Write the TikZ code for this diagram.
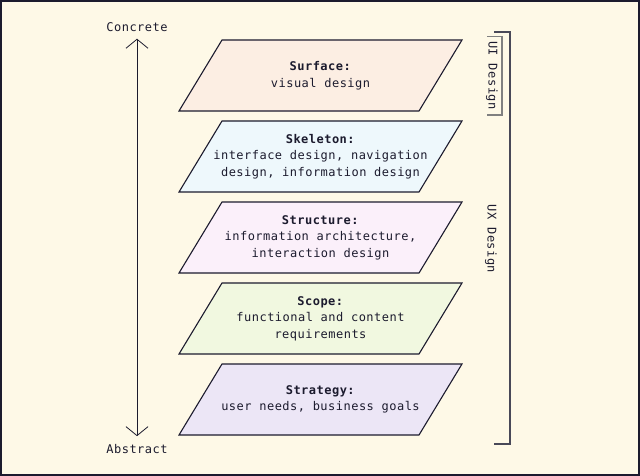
\documentclass[tikz,border=0pt]{standalone}
\usepackage{fontspec}
\setmonofont[LetterSpace=4]{DejaVu Sans Mono}
\usetikzlibrary{arrows.meta}

\definecolor{paper}{HTML}{FEF9E7}
\definecolor{ink}{HTML}{1C1B2E}
\definecolor{surfacefill}{HTML}{FCEEE3}
\definecolor{skeletonfill}{HTML}{EEF8FC}
\definecolor{structurefill}{HTML}{FBF0FA}
\definecolor{scopefill}{HTML}{F1F8E0}
\definecolor{strategyfill}{HTML}{ECE6F6}

\tikzset{
  plane/.style={draw=ink,line width=1.1pt},
  planetext/.style={align=center,text=ink,font=\ttfamily\fontsize{12}{16.5}\selectfont},
  sidetext/.style={text=ink,font=\ttfamily\fontsize{12}{14}\selectfont,inner sep=1pt},
  bracket/.style={line width=1.2pt}
}

\begin{document}
\begin{tikzpicture}[x=1pt,y=-1pt]
    \useasboundingbox (0,0) rectangle (640,476);
    \fill[paper] (0,0) rectangle (640,476);
    \draw[ink,line width=2pt] (1,1) rectangle (639,475);

    % scale: concrete to abstract
    \node[sidetext] (concrete) at (137,27) {Concrete};
    \node[sidetext] (abstract) at (137,449) {Abstract};
    \draw[ink,line width=0.8pt,{Straight Barb[length=9pt,width=22pt]}-{Straight Barb[length=9pt,width=22pt]},shorten <=6pt,shorten >=7pt] (concrete) -- (abstract);

    % the five planes
    \draw[plane,fill=surfacefill] (222,40) -- (462,40) -- (419,111) -- (179,111) -- cycle;
    \node[planetext] (surface) at (320.5,75.5) {\textbf{Surface:}\\visual design};

    \draw[plane,fill=skeletonfill] (222,121) -- (462,121) -- (419,192) -- (179,192) -- cycle;
    \node[planetext] (skeleton) at (320.5,156.5) {\textbf{Skeleton:}\\interface design, navigation\\design, information design};

    \draw[plane,fill=structurefill] (222,202) -- (462,202) -- (419,273) -- (179,273) -- cycle;
    \node[planetext] (structure) at (320.5,237.5) {\textbf{Structure:}\\information architecture,\\interaction design};

    \draw[plane,fill=scopefill] (222,283) -- (462,283) -- (419,354) -- (179,354) -- cycle;
    \node[planetext] (scope) at (320.5,318.5) {\textbf{Scope:}\\functional and content\\requirements};

    \draw[plane,fill=strategyfill] (222,364) -- (462,364) -- (419,435) -- (179,435) -- cycle;
    \node[planetext] (strategy) at (320.5,399.5) {\textbf{Strategy:}\\user needs, business goals};

    % brackets
    \draw[bracket,gray] (487,36.5) -- (502,36.5) -- (502,115) -- (487,115);
    \node[sidetext,rotate=-90] (uidesign) at (492,75.5) {UI Design};

    \draw[bracket,ink!80] (494,32) -- (510,32) -- (510,444) -- (494,444);
    \node[sidetext,rotate=-90] (uxdesign) at (491,239) {UX Design};
\end{tikzpicture}
\end{document}
